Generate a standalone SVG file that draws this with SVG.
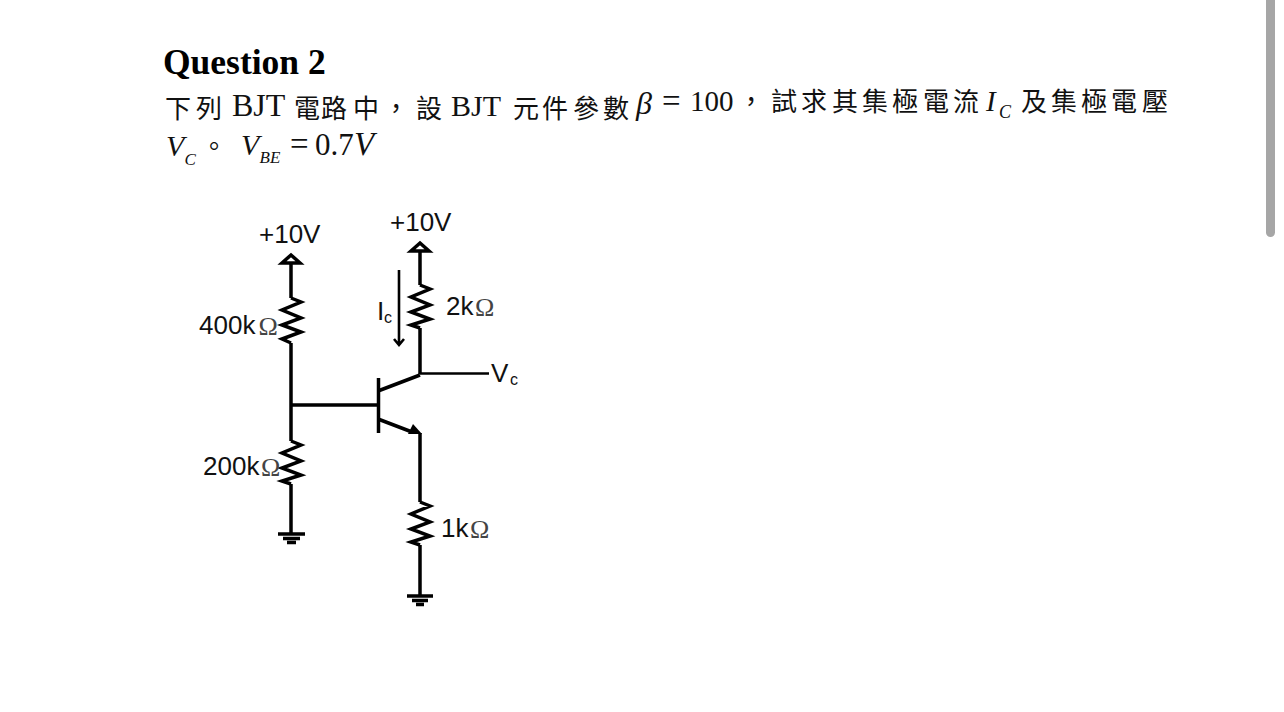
<svg xmlns="http://www.w3.org/2000/svg" width="1284" height="712" viewBox="0 0 1284 712">
<style>
.w{fill:none;stroke:#000;stroke-width:3.500;stroke-linejoin:miter}
.t{fill:none;stroke:#000;stroke-width:2.600}
.s{font-family:"Liberation Sans",Arial,sans-serif;font-size:26px;fill:#111}
.sub{font-family:"Liberation Sans",Arial,sans-serif;font-size:16px;fill:#111}
.o{font-family:"Liberation Serif",serif;font-size:26px;fill:#444}
.c{font-family:"Noto Sans CJK TC",sans-serif;font-size:26px;fill:#111}
.r{font-family:"Liberation Serif",serif;fill:#111}
.i{font-family:"Liberation Serif",serif;font-style:italic;fill:#111}
</style>
<rect width="1284" height="712" fill="#fff"/>
<rect x="1266" y="-10" width="9" height="247" rx="4.500" fill="#a6a6a6"/>
<g id="question">
<text x="163" y="74" font-family="Liberation Serif,serif" font-weight="700" font-size="35.500px" fill="#000">Question 2</text>
<text class="c" y="118" x="165 196">下列</text>
<text class="r" x="232" y="116" font-size="32px">BJT</text>
<text class="c" y="118" x="294 321 353 383 416">電路中，設</text>
<text class="r" x="451" y="116" font-size="30px">BJT</text>
<text class="c" y="118" x="513 542 573 603">元件參數</text>
<text class="i" x="636" y="114" font-size="32px">β</text>
<text class="r" x="662" y="112" font-size="33px">=</text>
<text class="r" x="690" y="111" font-size="29px">100</text>
<text class="c" y="111" x="738 771 801 832 862 892 923 953">，試求其集極電流</text>
<text class="i" x="986" y="111" font-size="29px">I</text>
<text class="i" x="999" y="118" font-size="18px">C</text>
<text class="c" y="111" x="1021 1051 1081 1111 1142">及集極電壓</text>
<text class="i" x="166" y="156" font-size="30px">V</text>
<text class="i" x="184.500" y="165" font-size="17px">C</text>
<text class="c" x="201" y="156">。</text>
<text class="i" x="241" y="155" font-size="30px">V</text>
<text class="i" x="259.500" y="163" font-size="17px">BE</text>
<text class="r" x="290" y="155" font-size="33px">=</text>
<text class="r" x="315" y="155" font-size="31px">0.7</text>
<text class="i" x="354" y="155" font-size="33px">V</text>
</g>
<g id="connectors">
<path class="w" d="M291 263V298M291 343V441M291 484V534M291 405H378"/>
<path class="w" d="M420 252V285M420 328V374M420 433V502M420 545V596"/>
<path class="t" d="M420 373.500H489"/>
<path class="w" d="M378 391L420 375M378 419L412 432"/>
</g>
<g id="vcc-left"><path class="w" d="M291 255L300 263H282Z"/><text class="s" x="259" y="243">+10V</text></g>
<g id="vcc-right"><path class="w" d="M420 243L429 251H411Z"/><text class="s" x="390" y="231">+10V</text></g>
<g id="r400k"><path class="w" d="M291 298L301 302L282 310L301 318L282 325L301 332L282 339L291 343"/><text class="s" x="199" y="334">400k</text><text class="o" x="258.500" y="335">Ω</text></g>
<g id="r2k"><path class="w" d="M420 285L430 289L411 297L430 305L411 312L430 319L411 325L420 328"/><text class="s" x="446" y="315">2k</text><text class="o" x="475" y="316">Ω</text></g>
<g id="r200k"><path class="w" d="M291 441L301 445L282 453L301 461L282 468L301 475L282 481L291 484"/><text class="s" x="203" y="475">200k</text><text class="o" x="261" y="476">Ω</text></g>
<g id="r1k"><path class="w" d="M420 502L430 506L411 514L430 522L411 529L430 536L411 542L420 545"/><text class="s" x="441" y="537">1k</text><text class="o" x="470" y="538">Ω</text></g>
<g id="bjt"><path d="M378.500 378V433" class="w"/><path d="M408 434L413 424L422 434Z" fill="#000"/></g>
<g id="gnd-left"><path class="w" d="M278 534H305M283 538.500H300M287 542.500H296"/></g>
<g id="gnd-right"><path class="w" d="M407 596H433M412 600.500H428M416 604.500H424"/></g>
<g id="ic"><path class="t" d="M399 270V345M394 339L399 345L404 339"/><text class="s" x="377" y="320" font-size="24px">I</text><text class="sub" x="384" y="323">c</text></g>
<g id="vc"><text class="s" x="491" y="382">V</text><text class="sub" x="510" y="385">c</text></g>
</svg>
